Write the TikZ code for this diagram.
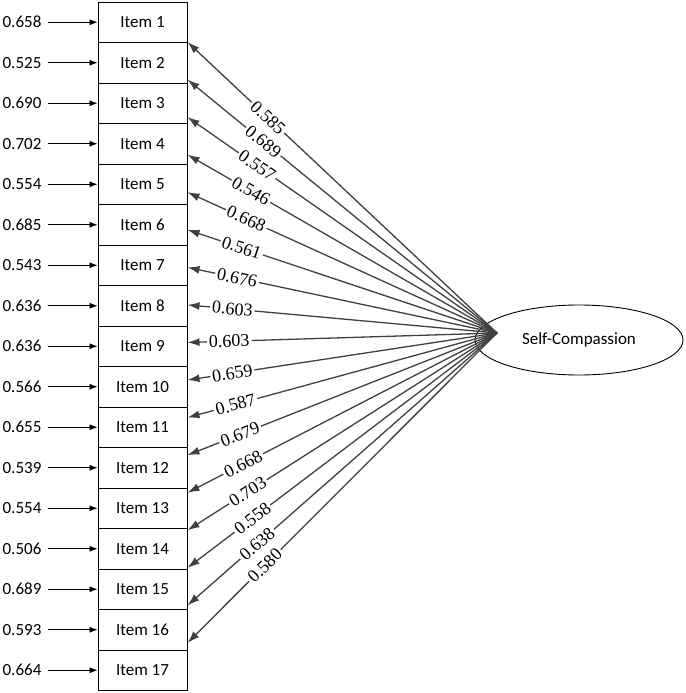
\documentclass[tikz,border=0pt]{standalone}
\usepackage{fontspec}
\setmainfont{Carlito}
\newfontfamily\serifl{Liberation Serif}
\usetikzlibrary{arrows.meta,shapes.geometric}
\begin{document}
\begin{tikzpicture}[x=1pt,y=-1pt,
  itembox/.style={draw,line width=0.9pt,minimum width=89pt,minimum height=40.5pt,inner sep=0pt,font=\fontsize{17}{19}\selectfont},
  errlab/.style={font=\fontsize{17}{19}\selectfont,anchor=center,inner sep=1pt},
  errarr/.style={-{Latex[length=8pt,width=6pt]},line width=0.8pt},
  load/.style={-{Latex[length=12pt,width=8pt]},line width=1.3pt,draw=black!75},
  loadlab/.style={fill=white,inner sep=2pt,sloped,font=\serifl\fontsize{18}{19}\selectfont}]
\useasboundingbox (0,0) rectangle (685,693);
\foreach \i/\e in {1/0.658,2/0.525,3/0.690,4/0.702,5/0.554,6/0.685,7/0.543,8/0.636,9/0.636,10/0.566,11/0.655,12/0.539,13/0.554,14/0.506,15/0.689,16/0.593,17/0.664}{
  \node[itembox] (it\i) at (142.5,{2+40.5*(\i-0.5)}) {Item \i};
  \node[errlab] (e\i) at (22,{2+40.5*(\i-0.5)}) {\e};
  \draw[errarr] (e\i.east) ++(5,0) coordinate (s\i) -- (it\i.west);
}
\node[draw,ellipse,line width=0.9pt,minimum width=208pt,minimum height=70pt,font=\fontsize{17}{19}\selectfont] (sc) at (579,340) {Self-Compassion};
\coordinate (c) at (497,333);
\foreach \k/\v/\p in {1/0.585/0.26,2/0.689/0.245,3/0.557/0.225,4/0.546/0.205,5/0.668/0.19,6/0.561/0.175,7/0.676/0.16,8/0.603/0.145,9/0.603/0.135,10/0.659/0.145,11/0.587/0.155,12/0.679/0.17,13/0.668/0.18,14/0.703/0.195,15/0.558/0.21,16/0.638/0.225,17/0.580/0.25}{
  \coordinate (t\k) at (187.5,{42+37.56*(\k-1)});
  \draw[load] (c) -- node[loadlab,pos=1-\p]{\v} (t\k);
}
\end{tikzpicture}
\end{document}
